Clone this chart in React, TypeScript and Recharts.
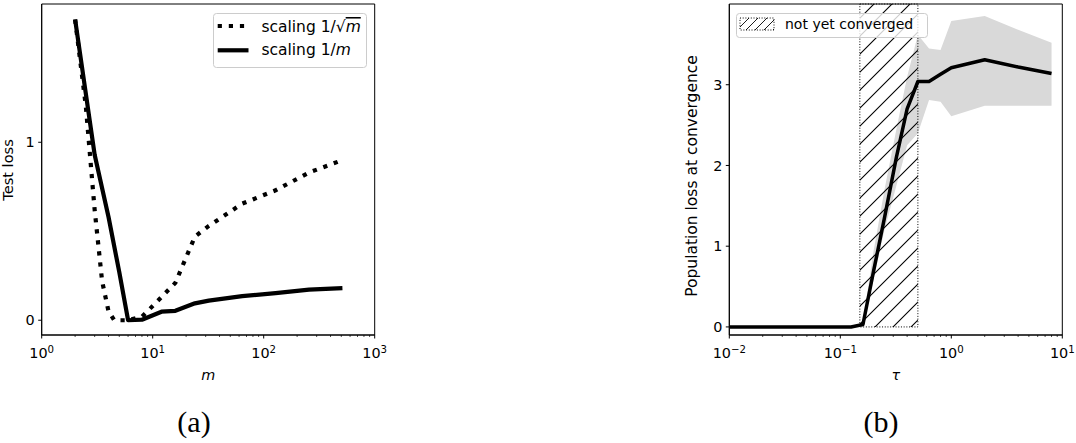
import React from 'react';
import { ComposedChart, Line, Area, XAxis, YAxis, ReferenceArea, Legend } from 'recharts';

const FONT = '"DejaVu Sans", sans-serif';

// ---------- Panel (a): test loss vs m ----------
const M_SQRT = [2, 2.5, 3, 3.5, 4, 4.5, 6, 8, 10, 12, 16, 24, 32, 64, 128, 256, 512];
const LOSS_SQRT = [1.69, 1.2, 0.62, 0.22, 0.05, 0, 0, 0.02, 0.08, 0.13, 0.21, 0.47, 0.53, 0.655, 0.73, 0.83, 0.9];
const M_LIN = [2, 3, 4, 5, 6, 8, 12, 16, 24, 32, 64, 128, 256, 512];
const LOSS_LIN = [1.69, 0.93, 0.58, 0.27, 0, 0.003, 0.048, 0.053, 0.095, 0.11, 0.135, 0.152, 0.172, 0.18];
const M_DOMAIN = [1, 1000];
const LOSS_DOMAIN = [-0.083, 1.777];
const M_DECADES = [1, 10, 100];
const LOSS_TICKS = [0, 1];

// ---------- Panel (b): population loss vs tau ----------
const TAU = [0.01, 0.016, 0.025, 0.04, 0.063, 0.1, 0.125, 0.16, 0.2, 0.25, 0.32, 0.4, 0.5, 0.63, 0.8, 1, 2, 4, 8];
const POP_LOSS = [0, 0, 0, 0, 0, 0, 0, 0.03, 0.7, 1.35, 2.1, 2.7, 3.04, 3.04, 3.13, 3.21, 3.31, 3.22, 3.14];
const BAND_LO = [0, 0, 0, 0, 0, 0, 0, 0, 0.6, 1.2, 1.75, 2.25, 2.4, 2.81, 2.79, 2.61, 2.74, 2.74, 2.74];
const BAND_HI = [0, 0, 0, 0, 0, 0, 0, 0.06, 0.95, 1.7, 2.45, 3.1, 3.62, 3.45, 3.43, 3.79, 3.85, 3.68, 3.52];
const NOT_CONVERGED = [0.15, 0.5];
const TAU_DOMAIN = [0.01, 10];
const POP_DOMAIN = [-0.1, 4.0];
const TAU_DECADES = [0.01, 0.1, 1];
const POP_TICKS = [0, 1, 2, 3];

const sqrtRows = M_SQRT.map((m, i) => ({ m, loss: LOSS_SQRT[i] }));
const linRows = M_LIN.map((m, i) => ({ m, loss: LOSS_LIN[i] }));
const tauRows = TAU.map((tau, i) => ({ tau, loss: POP_LOSS[i], band: [BAND_LO[i], BAND_HI[i]] }));

const logTicks = (decades: number[], last: number) => {
  const out: number[] = [];
  decades.forEach((d) => {
    for (let k = 1; k <= 9; k++) out.push(+(d * k).toPrecision(6));
  });
  out.push(last);
  return out;
};
const M_TICKS = logTicks(M_DECADES, M_DOMAIN[1]);
const TAU_TICKS = logTicks(TAU_DECADES, TAU_DOMAIN[1]);

const LogTick = (props: any) => {
  const { x, y, payload } = props;
  const v = payload.value as number;
  const e = Math.log10(v);
  const exp = Math.round(e);
  const major = Math.abs(e - exp) < 1e-6;
  return (
    <g>
      <line x1={x} x2={x} y1={y} y2={y + (major ? 3.5 : 2)} stroke="#000" strokeWidth={major ? 1 : 0.7} />
      {major && (
        <text x={x} y={y + 23.3} textAnchor="middle" fontFamily={FONT} fontSize={14.4} fill="#000">
          10
          <tspan dy={-5.6} fontSize={10.2}>
            {exp < 0 ? '\u2212' + -exp : String(exp)}
          </tspan>
        </text>
      )}
    </g>
  );
};

const AxisText = (props: any) => {
  const { viewBox, text, dx = 0, dy = 0, rotate = false, italic = false, size = 14 } = props;
  const cx = viewBox.x + (rotate ? dx : viewBox.width / 2 + dx);
  const cy = viewBox.y + (rotate ? viewBox.height / 2 + dy : dy);
  return (
    <text
      x={cx}
      y={cy}
      textAnchor="middle"
      transform={rotate ? `rotate(-90 ${cx} ${cy})` : undefined}
      fontFamily={FONT}
      fontSize={size}
      fontStyle={italic ? 'italic' : 'normal'}
      fill="#000"
    >
      {text}
    </text>
  );
};

const LegendA = () => (
  <svg width={154} height={55} style={{ display: 'block', overflow: 'visible' }}>
    <rect x={0.5} y={0.5} width={153} height={54} rx={3} fill="#fff" fillOpacity={0.8} stroke="#cccccc" />
    <line x1={4.7} x2={35.5} y1={13} y2={13} stroke="#000" strokeWidth={4.2} strokeDasharray="4.2 6.9" />
    <line x1={4.7} x2={35.5} y1={37.3} y2={37.3} stroke="#000" strokeWidth={4.2} />
    <text x={48.4} y={19} fontFamily={FONT} fontSize={15.5} fill="#000">
      scaling 1/√<tspan fontStyle="italic" style={{ textDecoration: 'overline' }}>m</tspan>
    </text>
    <text x={48.4} y={42.3} fontFamily={FONT} fontSize={15.5} fill="#000">
      scaling 1/<tspan fontStyle="italic">m</tspan>
    </text>
  </svg>
);

const LegendB = () => (
  <svg width={192} height={25} style={{ display: 'block', overflow: 'visible' }}>
    <defs>
      <pattern id="hatchLegend" patternUnits="userSpaceOnUse" width={9} height={9}>
        <path d="M0,9 L9,0 M-2,2 L2,-2 M7,11 L11,7" stroke="#000" strokeWidth={0.9} />
      </pattern>
    </defs>
    <rect x={0.5} y={0.5} width={191} height={24} rx={3} fill="#fff" fillOpacity={0.8} stroke="#cccccc" />
    <rect x={4} y={5} width={34} height={12} fill="url(#hatchLegend)" stroke="#000" strokeWidth={1} strokeDasharray="1 1.7" />
    <text x={49} y={16.4} fontFamily={FONT} fontSize={14} fill="#000">
      not yet converged
    </text>
  </svg>
);

const Caption = ({ text, cx }: { text: string; cx: number }) => (
  <div
    style={{
      position: 'absolute',
      left: cx - 40,
      width: 80,
      top: 405,
      textAlign: 'center',
      fontFamily: '"Liberation Serif", "Times New Roman", serif',
      fontSize: 30,
      lineHeight: '34px',
      color: '#000',
    }}
  >
    {text}
  </div>
);

const axisBlack = { stroke: '#000', strokeWidth: 1 };

export default function App() {
  return (
    <div style={{ position: 'absolute', left: 0, top: 0, width: 1076, height: 443, background: '#fff', overflow: 'hidden' }}>
      {/* Panel (a) */}
      <div style={{ position: 'absolute', left: 0, top: 0 }}>
        <ComposedChart width={400} height={443} data={linRows} margin={{ top: 4, right: 25.3, bottom: 78, left: 0 }}>
          <XAxis
            type="number"
            dataKey="m"
            scale="log"
            domain={M_DOMAIN}
            allowDataOverflow
            ticks={M_TICKS}
            interval={0}
            tickLine={false}
            tickSize={0}
            tickMargin={0}
            tick={<LogTick />}
            axisLine={axisBlack}
            height={30}
            label={<AxisText text="m" italic dy={45} size={14.4} />}
          />
          <YAxis
            type="number"
            domain={LOSS_DOMAIN}
            allowDataOverflow
            ticks={LOSS_TICKS}
            interval={0}
            width={41.7}
            tickSize={3.5}
            tickMargin={3.5}
            tickLine={axisBlack}
            axisLine={axisBlack}
            tick={{ fontFamily: FONT, fontSize: 14.4, fill: '#000' }}
            label={<AxisText text="Test loss" rotate dx={13.3} dy={0.5} size={14.6} />}
          />
          <ReferenceArea
            x1={M_DOMAIN[0]}
            x2={M_DOMAIN[1]}
            y1={LOSS_DOMAIN[0]}
            y2={LOSS_DOMAIN[1]}
            fill="none"
            stroke="#000"
            strokeWidth={1}
            ifOverflow="visible"
          />
          <Line
            data={sqrtRows}
            dataKey="loss"
            type="linear"
            stroke="#000"
            strokeWidth={4.2}
            strokeDasharray="4.2 6.9"
            strokeLinecap="butt"
            dot={false}
            activeDot={false}
            isAnimationActive={false}
          />
          <Line
            dataKey="loss"
            type="linear"
            stroke="#000"
            strokeWidth={4.2}
            strokeLinejoin="round"
            dot={false}
            activeDot={false}
            isAnimationActive={false}
          />
          <Legend layout="vertical" align="center" verticalAlign="middle" wrapperStyle={{ left: 213.3, top: 12.7, width: 154, height: 55 }} content={() => <LegendA />} />
        </ComposedChart>
      </div>
      <Caption text="(a)" cx={194} />

      {/* Panel (b) */}
      <div style={{ position: 'absolute', left: 680, top: 0 }}>
        <ComposedChart width={396} height={443} data={tauRows} margin={{ top: 4, right: 13.7, bottom: 78, left: 0 }}>
          <defs>
            <pattern id="hatchB" patternUnits="userSpaceOnUse" width={18} height={18}>
              <path d="M0,18 L18,0 M-2,2 L2,-2 M16,20 L20,16" stroke="#000" strokeWidth={1.1} />
            </pattern>
          </defs>
          <XAxis
            type="number"
            dataKey="tau"
            scale="log"
            domain={TAU_DOMAIN}
            allowDataOverflow
            ticks={TAU_TICKS}
            interval={0}
            tickLine={false}
            tickSize={0}
            tickMargin={0}
            tick={<LogTick />}
            axisLine={axisBlack}
            height={30}
            label={<AxisText text="τ" italic dy={45} size={14.4} />}
          />
          <YAxis
            type="number"
            domain={POP_DOMAIN}
            allowDataOverflow
            ticks={POP_TICKS}
            interval={0}
            width={49.3}
            tickSize={3.5}
            tickMargin={3.5}
            tickLine={axisBlack}
            axisLine={axisBlack}
            tick={{ fontFamily: FONT, fontSize: 14.4, fill: '#000' }}
            label={<AxisText text="Population loss at convergence" rotate dx={17} dy={6.5} size={15.5} />}
          />
          <Area
            dataKey="band"
            type="linear"
            fill="#d9d9d9"
            fillOpacity={1}
            stroke="none"
            dot={false}
            activeDot={false}
            isAnimationActive={false}
          />
          <ReferenceArea
            x1={NOT_CONVERGED[0]}
            x2={NOT_CONVERGED[1]}
            y1={0}
            y2={POP_DOMAIN[1]}
            fill="url(#hatchB)"
            fillOpacity={1}
            stroke="#000"
            strokeWidth={1}
            strokeDasharray="1 1.7"
          />
          <ReferenceArea
            x1={TAU_DOMAIN[0]}
            x2={TAU_DOMAIN[1]}
            y1={POP_DOMAIN[0]}
            y2={POP_DOMAIN[1]}
            fill="none"
            stroke="#000"
            strokeWidth={1}
            ifOverflow="visible"
          />
          <Line
            dataKey="loss"
            type="linear"
            stroke="#000"
            strokeWidth={3.5}
            strokeLinejoin="round"
            dot={false}
            activeDot={false}
            isAnimationActive={false}
          />
          <Legend layout="vertical" align="center" verticalAlign="middle" wrapperStyle={{ left: 56, top: 13, width: 192, height: 25 }} content={() => <LegendB />} />
        </ComposedChart>
      </div>
      <Caption text="(b)" cx={881} />
    </div>
  );
}
